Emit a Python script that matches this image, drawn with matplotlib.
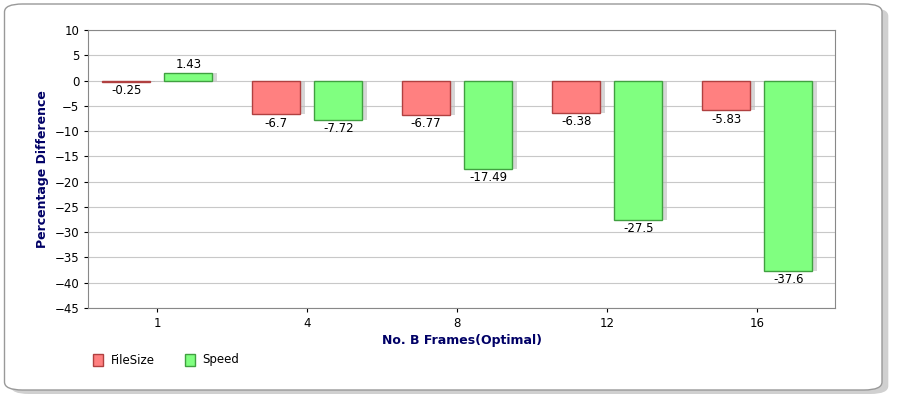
import matplotlib
matplotlib.use("Agg")
import matplotlib.pyplot as plt
from matplotlib.patches import FancyBboxPatch
import numpy as np

categories = ["1", "4", "8", "12", "16"]
filesize = [-0.25, -6.7, -6.77, -6.38, -5.83]
speed = [1.43, -7.72, -17.49, -27.5, -37.6]
NAVY = "#000066"

fig = plt.figure(figsize=(9, 4), dpi=100)
fig.patch.set_facecolor("white")
fig.patches.append(FancyBboxPatch((0.012, 0.015), 0.975, 0.965, boxstyle="round,pad=0,rounding_size=0.02",
                                  transform=fig.transFigure, fc="#d0d0d0", ec="none", zorder=-2))
fig.patches.append(FancyBboxPatch((0.005, 0.025), 0.975, 0.965, boxstyle="round,pad=0,rounding_size=0.02",
                                  transform=fig.transFigure, fc="white", ec="#999999", lw=1, zorder=-1))

ax = fig.add_axes([0.098, 0.23, 0.83, 0.695])
ax.set_zorder(5)
ax.set_facecolor("white")
x = np.arange(len(categories))
w, off = 0.32, 0.207
for xs, vals, fc, ec in [(x - off, filesize, "#ff8080", "#b04040"), (x + off, speed, "#80ff80", "#40a040")]:
    ax.bar(xs + 0.03, vals, w, bottom=0, color="#bbbbbb", zorder=2, alpha=0.6)
    ax.bar(xs, vals, w, color=fc, edgecolor=ec, lw=1, zorder=3)
    for xi, v in zip(xs, vals):
        ax.text(xi, v + (0.4 if v > 0 else -0.5), f"{v:g}", ha="center",
                va="bottom" if v > 0 else "top", fontsize=8.5, zorder=4)

ax.set_xlim(-0.46, 4.52)
ax.set_ylim(-45, 10)
ax.set_yticks(range(-45, 11, 5))
ax.set_xticks(x)
ax.set_xticklabels(categories)
ax.tick_params(labelsize=8.5, length=3)
ax.yaxis.grid(True, color="#c8c8c8", lw=0.8, zorder=0)
ax.set_axisbelow(True)
for s in ax.spines.values():
    s.set_color("#888888")
ax.set_xlabel("No. B Frames(Optimal)", fontsize=9, fontweight="bold", color=NAVY, labelpad=3)
ax.set_ylabel("Percentage Difference", fontsize=9, fontweight="bold", color=NAVY)

for lx, fc, ec, lab in [(0.103, "#ff8080", "#b04040", "FileSize"), (0.205, "#80ff80", "#40a040", "Speed")]:
    fig.patches.append(plt.Rectangle((lx, 0.085), 0.012, 0.03, transform=fig.transFigure,
                                     fc=fc, ec=ec, lw=1, zorder=1))
    fig.text(lx + 0.02, 0.1, lab, fontsize=8.5, va="center", zorder=2)

fig.savefig("out.png", dpi=100)
